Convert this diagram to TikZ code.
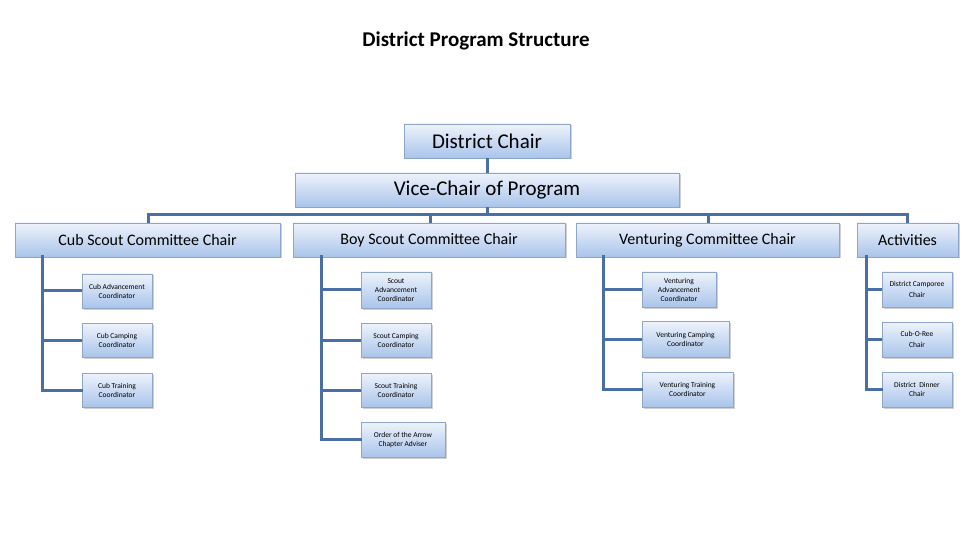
\documentclass[tikz,border=0pt]{standalone}
\usepackage{fontspec}
\setmainfont{Carlito}
\usetikzlibrary{shadows}
\definecolor{ln}{HTML}{4A6FA5}
\definecolor{bd}{HTML}{8EA6C8}
\definecolor{topc}{HTML}{EEF3FB}
\definecolor{botc}{HTML}{A9C4EB}
\begin{document}
\begin{tikzpicture}[x=1pt,y=-1pt,
 bx/.style={draw=bd,line width=0.8pt,top color=topc,bottom color=botc,inner sep=0pt,align=center,
   drop shadow={shadow xshift=1.5pt,shadow yshift=-1.5pt,fill=black!30,opacity=0.6}},
 conn/.style={draw=ln,line width=3pt},
 sm/.style={font=\fontsize{7.5}{9}\selectfont}]
\path[use as bounding box,fill=white] (0,0) rectangle (967,540);
\node[font=\bfseries\fontsize{21}{24}\selectfont] (title) at (476,41) {District Program Structure};
\newcommand{\bxat}[6]{\node[bx,minimum width=#4-#2,minimum height=#5-#3,#6] (#1) at ({(#2+#4)/2},{(#3+#5)/2})}
\bxat{dc}{404}{124}{570}{158}{font=\fontsize{21}{24}\selectfont}{District Chair};
\bxat{vc}{295}{173}{679}{207}{font=\fontsize{21}{24}\selectfont}{Vice-Chair of Program};
\coordinate (b1) at (148,215); \coordinate (b2) at (430,215);
\coordinate (b3) at (708,215); \coordinate (b4) at (907,215);
\coordinate (bm) at (487,215);
\draw[conn] (dc.south) -- (vc.north);
\draw[conn] (vc.south) -- (bm);
\draw[conn,line cap=rect] (b1) -- (b4);
\bxat{cub}{15}{223}{280}{257}{font=\fontsize{16}{19}\selectfont}{Cub Scout Committee Chair};
\bxat{boy}{293}{223}{565}{257}{font=\fontsize{16}{19}\selectfont}{Boy Scout Committee Chair};
\bxat{ven}{576}{223}{839}{257}{font=\fontsize{16}{19}\selectfont}{Venturing Committee Chair};
\bxat{act}{857}{223}{958}{257}{font=\fontsize{16}{19}\selectfont}{Activities};
\draw[conn] (b1) -- (b1|-cub.north); \draw[conn] (b2) -- (b2|-boy.north);
\draw[conn] (b3) -- (b3|-ven.north); \draw[conn] (b4) -- (b4|-act.north);
% Cub
\bxat{c1}{82}{274}{152}{308}{sm}{Cub Advancement\\Coordinator};
\bxat{c2}{82}{323}{152}{357}{sm}{Cub Camping\\Coordinator};
\bxat{c3}{82}{373}{152}{407}{sm}{Cub Training\\Coordinator};
\coordinate (ct) at (42,257); \coordinate (ce) at (42,390);
\draw[conn,line cap=rect] (ct) -- (ce) -- (c3.west);
\draw[conn] (ct|-c1.west) -- (c1.west); \draw[conn] (ct|-c2.west) -- (c2.west);
% Boy
\bxat{s1}{361}{272}{431}{308}{sm}{Scout\\Advancement\\Coordinator};
\bxat{s2}{361}{323}{431}{357}{sm}{Scout Camping\\Coordinator};
\bxat{s3}{361}{373}{431}{407}{sm}{Scout Training\\Coordinator};
\bxat{s4}{361}{422}{445}{457}{sm}{Order of the Arrow\\Chapter Adviser};
\coordinate (st) at (321,257); \coordinate (se) at (321,439.5);
\draw[conn,line cap=rect] (st) -- (se) -- (s4.west);
\draw[conn] (st|-s1.west) -- (s1.west); \draw[conn] (st|-s2.west) -- (s2.west);
\draw[conn] (st|-s3.west) -- (s3.west);
% Venturing
\bxat{v1}{642}{272}{716}{307}{sm}{Venturing\\Advancement\\Coordinator};
\bxat{v2}{642}{321}{729}{357}{sm}{Venturing Camping\\Coordinator};
\bxat{v3}{642}{372}{733}{407}{sm}{Venturing Training\\Coordinator};
\coordinate (vt) at (603,257); \coordinate (ve) at (603,389.5);
\draw[conn,line cap=rect] (vt) -- (ve) -- (v3.west);
\draw[conn] (vt|-v1.west) -- (v1.west); \draw[conn] (vt|-v2.west) -- (v2.west);
% Activities
\bxat{a1}{882}{272}{952}{307}{sm}{District Camporee\\[2pt]Chair};
\bxat{a2}{882}{322}{952}{357}{sm}{Cub-O-Ree\\[2pt]Chair};
\bxat{a3}{882}{372}{952}{407}{sm}{District~ Dinner\\Chair};
\coordinate (at) at (866,257); \coordinate (ae) at (866,389.5);
\draw[conn,line cap=rect] (at) -- (ae) -- (a3.west);
\draw[conn] (at|-a1.west) -- (a1.west); \draw[conn] (at|-a2.west) -- (a2.west);
\end{tikzpicture}
\end{document}
